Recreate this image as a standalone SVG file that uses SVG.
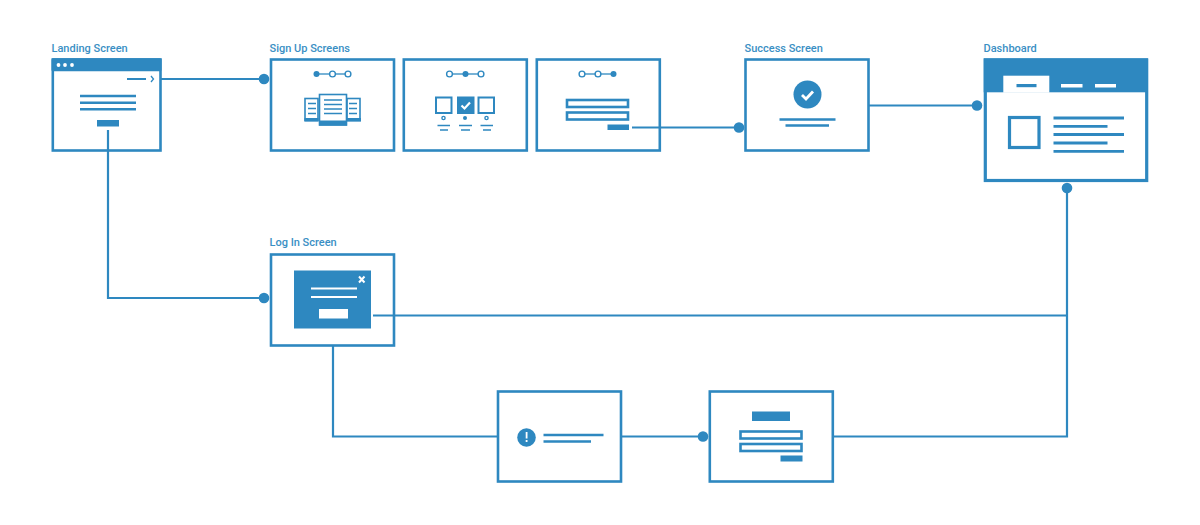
<svg xmlns="http://www.w3.org/2000/svg" width="1200" height="525" viewBox="0 0 1200 525">
<defs><style>
.f{fill:#2e88c0}
.w{fill:#fff}
.s{fill:none;stroke:#2e88c0;stroke-width:2.6}
.l{fill:none;stroke:#2e88c0;stroke-width:2.4}
.c{fill:none;stroke:#2e88c0;stroke-width:2.2}
.o{fill:#fff;stroke:#2e88c0;stroke-width:1.4}
.k{fill:none;stroke:#fff;stroke-width:2.2}
.a{stroke-width:1.3}
.b{stroke-width:1.6}
.d{stroke-width:2}
.e{stroke-width:2.8}
.g{stroke-width:3.2}
.t{font-family:Roboto,"Liberation Sans",Arial,sans-serif;font-size:11px;font-weight:500;fill:#3a8fc4}
</style></defs>
<rect width="1200" height="525" fill="#fff"/>
<g id="connectors">
<path class="c" d="M160 79H264"/>
<circle class="f" cx="264" cy="79" r="5.300"/>
<path class="c" d="M632 127.500H739"/>
<circle class="f" cx="739" cy="127.500" r="5.300"/>
<path class="c" d="M869 105.500H977"/>
<circle class="f" cx="977" cy="105.500" r="5.300"/>
<path class="c" d="M108 130V298H264"/>
<circle class="f" cx="264" cy="298" r="5.300"/>
<path class="c" d="M373 315.500H1067"/>
<path class="c" d="M1067 188V436.500H833"/>
<circle class="f" cx="1067" cy="188" r="5.300"/>
<path class="c" d="M333 346V436.500H497"/>
<path class="c" d="M622 436.500H703"/>
<circle class="f" cx="703" cy="436.500" r="5.300"/>
</g>
<g id="landing-screen">
<text class="t" x="51.500" y="52">Landing Screen</text>
<rect class="s" x="52.800" y="59.500" width="107.700" height="91"/>
<rect class="f" x="51.500" y="58.300" width="110" height="13" rx="1.500"/>
<circle class="w" cx="58.500" cy="65" r="1.900"/><circle class="w" cx="65" cy="65" r="1.900"/><circle class="w" cx="72" cy="65" r="1.900"/>
<path class="l d" d="M127 79H146"/>
<path class="l a" d="M151 76l2.500 3-2.500 3"/>
<path class="l" d="M80 96H136M80 102.800H136M80 109.300H136"/>
<rect class="f" x="97" y="120" width="22" height="6.500"/>
</g>
<g id="signup-1">
<text class="t" x="269.500" y="52">Sign Up Screens</text>
<rect class="s" x="271" y="59.500" width="123" height="91"/>
<path class="l a" d="M317 74H345"/>
<circle class="f" cx="316.500" cy="74" r="3"/><circle class="o" cx="332.500" cy="74" r="2.900"/><circle class="o" cx="348" cy="74" r="2.900"/>
<rect class="o b" x="305" y="98.500" width="13" height="22"/>
<rect class="f" x="304.500" y="118" width="14" height="3.500"/>
<path class="l a" d="M308 103.500H316M308 108.500H316M308 113.500H316"/>
<rect class="o b" x="347" y="98.500" width="13" height="22"/>
<rect class="f" x="347" y="118" width="14" height="3.500"/>
<path class="l a" d="M349 103.500H357M349 108.500H357M349 113.500H357"/>
<rect class="o b" x="319.500" y="94.500" width="27" height="30.500"/>
<rect class="f" x="319" y="120.500" width="28" height="5"/>
<path class="l a" d="M324 100H342M324 104.500H342M324 109H342M324 113.500H342"/>
</g>
<g id="signup-2">
<rect class="s" x="403.800" y="59.500" width="123" height="91"/>
<path class="l a" d="M449 74H481"/>
<circle class="o" cx="449.500" cy="74" r="2.900"/><circle class="f" cx="465.500" cy="74" r="3"/><circle class="o" cx="481" cy="74" r="2.900"/>
<rect class="s d" x="436" y="97.500" width="15.500" height="15.500"/>
<rect class="f" x="457" y="96.500" width="17.500" height="17.500"/>
<path class="k" d="M461.500 105.500l3 3 5.500-6"/>
<rect class="s d" x="478.500" y="97.500" width="15.500" height="15.500"/>
<circle class="o" cx="443.500" cy="118" r="1.600"/><circle class="f" cx="465" cy="118" r="2"/><circle class="o" cx="486.500" cy="118" r="1.600"/>
<path class="l a" d="M437.500 125.500H450M440 130H448M459 125.500H472M461 130H470M480.500 125.500H493M483 130H491"/>
</g>
<g id="signup-3">
<rect class="s" x="536.800" y="59.500" width="123" height="91"/>
<path class="l a" d="M582 74H614"/>
<circle class="o" cx="582" cy="74" r="2.900"/><circle class="o" cx="598" cy="74" r="2.900"/><circle class="f" cx="613.500" cy="74" r="3"/>
<rect class="s" x="567" y="100" width="61" height="7"/>
<rect class="s" x="567" y="112.500" width="61" height="7"/>
<rect class="f" x="607.500" y="124.500" width="21.500" height="5.500"/>
</g>
<g id="success-screen">
<text class="t" x="744.500" y="52">Success Screen</text>
<rect class="s" x="745.500" y="59.500" width="123" height="91"/>
<circle class="f" cx="807.500" cy="94.500" r="14"/>
<path class="k e" d="M802 95l4 4 7-7.500"/>
<path class="l" d="M779.500 119.500H835.500M785.500 125.500H829"/>
</g>
<g id="dashboard">
<text class="t" x="983.500" y="52">Dashboard</text>
<rect class="s g" x="985.300" y="60" width="161.400" height="120.500"/>
<rect class="f" x="983.700" y="58.300" width="164.300" height="34"/>
<rect class="w" x="1003.300" y="75.700" width="46" height="17"/>
<rect class="f" x="1016.500" y="84" width="20" height="3.200"/>
<rect class="w" x="1061" y="84" width="21.500" height="3.500"/>
<rect class="w" x="1095" y="84" width="21" height="3.500"/>
<rect class="s g" x="1009.500" y="117.500" width="29.500" height="30"/>
<path class="l e" d="M1053.500 118H1124M1053.500 126.300H1107.500M1053.500 134.500H1124M1053.500 143H1107.500M1053.500 151.300H1124"/>
</g>
<g id="login-screen">
<text class="t" x="269.500" y="246">Log In Screen</text>
<rect class="s" x="271" y="254.500" width="123" height="91"/>
<rect class="f" x="294" y="270.500" width="77" height="58"/>
<path class="k d" d="M359 276.500l5.500 6M364.500 276.500l-5.500 6"/>
<path class="k d" d="M311 288.500H357M311 297H357"/>
<rect class="w" x="319" y="309" width="29" height="9.500"/>
</g>
<g id="error-screen">
<rect class="s" x="498" y="391.500" width="123" height="90"/>
<circle class="f" cx="526.500" cy="437.500" r="9.300"/>
<rect class="w" x="525.700" y="432" width="1.800" height="6.500"/><rect class="w" x="525.700" y="440" width="1.800" height="2"/>
<path class="l" d="M543.500 435H603.500M543.500 441.500H591"/>
</g>
<g id="recovery-screen">
<rect class="s" x="709.800" y="391.500" width="123" height="90"/>
<rect class="f" x="752" y="411.500" width="38" height="9.500"/>
<rect class="s" x="740.500" y="431.500" width="61" height="7"/>
<rect class="s" x="740.500" y="444" width="61" height="7"/>
<rect class="f" x="780.500" y="455.500" width="22" height="6"/>
</g>
</svg>
